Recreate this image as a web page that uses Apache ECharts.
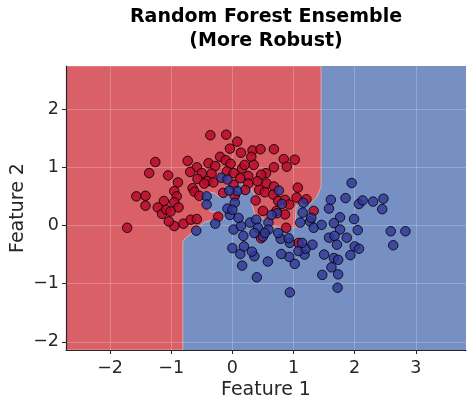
<!DOCTYPE html>
<html>
<head>
<meta charset="utf-8">
<script src="https://cdn.jsdelivr.net/npm/echarts@6/dist/echarts.min.js"></script>
<style>
  html, body { margin: 0; padding: 0; background: #fff; }
  #chart { width: 474px; height: 407px; }
</style>
</head>
<body>
<div id="chart"></div>
<script>
// axis extents and tick labels
var xRange = [-2.72, 3.82];
var yRange = [-2.14, 2.74];
var xTicks = [-2, -1, 0, 1, 2, 3];
var yTicks = [-2, -1, 0, 1, 2];

// decision region of class 0 (red), the rest of the plane is class 1 (blue)
var redRegion = [
  [-2.72, 2.74], [1.45, 2.74], [1.45, 0.66], [1.38, 0.49], [1.29, 0.39],
  [1.04, 0.34], [1.03, 0.06], [1.11, -0.01], [0.89, -0.06], [0.65, -0.01],
  [0.50, 0.13], [0.37, 0.18], [0.32, 0.36], [0.37, 0.51], [0.29, 0.67],
  [0.13, 0.72], [-0.07, 0.70], [-0.17, 0.61], [-0.20, 0.48], [-0.30, 0.56],
  [-0.41, 0.58], [-0.51, 0.55], [-0.51, 0.44], [-0.36, 0.24], [-0.17, 0.22],
  [-0.13, 0.11], [-0.33, 0.09], [-0.45, 0.06], [-0.56, -0.04], [-0.66, -0.13],
  [-0.76, -0.21], [-0.81, -0.28], [-0.81, -2.14], [-2.72, -2.14]
];

// class 0 samples (red)
var class0 = [
  [-0.36, 1.55], [-0.10, 1.56], [0.08, 1.44], [-0.04, 1.32], [0.14, 1.25],
  [0.33, 1.29], [0.46, 1.31], [0.68, 1.31], [0.31, 1.18], [-1.26, 1.09],
  [-1.36, 0.90], [-1.05, 0.86], [-0.73, 1.11], [-0.39, 1.07], [-0.20, 1.18],
  [-0.11, 1.12], [-0.03, 1.06], [-0.28, 1.02], [-0.58, 1.00], [-0.69, 0.92],
  [-0.50, 0.90], [-0.34, 0.89], [-0.09, 0.93], [0.02, 0.90], [0.16, 0.98],
  [0.35, 1.04], [0.20, 1.04], [0.68, 1.00], [0.84, 1.14], [1.02, 1.13],
  [0.89, 1.01], [0.55, 0.90], [0.47, 0.87], [0.26, 0.85], [0.13, 0.81],
  [-0.57, 0.80], [-0.89, 0.74], [-0.41, 0.76], [-0.31, 0.74], [0.02, 0.70],
  [0.26, 0.72], [0.41, 0.76], [0.56, 0.72], [0.68, 0.67], [1.07, 0.65],
  [-0.65, 0.64], [-0.62, 0.58], [-0.95, 0.59], [-0.91, 0.50], [-0.95, 0.40],
  [-1.57, 0.50], [-1.42, 0.51], [-1.42, 0.34], [-1.12, 0.42], [-1.22, 0.31],
  [-0.88, 0.31], [-0.54, 0.51], [-0.15, 0.56], [0.04, 0.51], [0.21, 0.61],
  [0.38, 0.43], [0.44, 0.61], [0.53, 0.57], [0.67, 0.53], [0.75, 0.42],
  [0.86, 0.44], [0.93, 0.36], [1.05, 0.48], [1.21, 0.45], [0.50, 0.25],
  [0.72, 0.25], [0.86, 0.19], [0.88, -0.04], [1.33, 0.25], [-0.23, 0.15],
  [-0.80, 0.03], [-0.68, 0.10], [-0.58, 0.11], [-0.95, -0.01], [-1.04, 0.07],
  [-1.15, 0.20], [-1.08, 0.27], [-1.01, 0.24], [-1.72, -0.04], [1.08, -0.30],
  [0.47, -0.22], [-0.46, 0.72]
];

// class 1 samples (blue)
var class1 = [
  [1.95, 0.73], [1.61, 0.44], [1.85, 0.47], [2.07, 0.37], [2.13, 0.43],
  [2.30, 0.41], [2.47, 0.46], [2.45, 0.28], [1.58, 0.29], [1.76, 0.14],
  [1.99, 0.11], [2.05, -0.08], [1.66, 0.04], [1.76, -0.07], [1.58, -0.21],
  [1.67, -0.18], [1.87, -0.21], [1.71, -0.33], [2.00, -0.36], [2.07, -0.40],
  [1.93, -0.51], [2.59, -0.10], [2.83, -0.10], [2.63, -0.34], [1.50, -0.50],
  [1.66, -0.56], [1.73, -0.59], [1.62, -0.72], [1.47, -0.85], [1.73, -0.84],
  [1.72, -1.07], [0.94, -1.15], [0.40, -0.89], [0.16, -0.69], [0.58, -0.62],
  [1.02, -0.66], [0.93, -0.54], [0.80, -0.49], [1.18, -0.50], [1.08, -0.44],
  [1.20, -0.40], [1.31, -0.33], [1.14, -0.30], [0.94, -0.30], [0.79, -0.23],
  [0.92, -0.22], [0.50, -0.19], [0.36, -0.53], [0.32, -0.45], [0.13, -0.49],
  [0.00, -0.39], [0.19, -0.36], [0.18, -0.18], [0.02, -0.07], [0.14, -0.01],
  [0.29, 0.05], [0.39, 0.10], [0.59, 0.05], [0.59, -0.07], [0.42, -0.04],
  [0.53, -0.13], [0.36, -0.13], [0.73, 0.21], [0.10, 0.13], [-0.04, 0.18],
  [-0.08, 0.29], [0.04, 0.39], [0.00, 0.27], [-0.28, 0.03], [-0.59, -0.09],
  [-0.42, 0.50], [-0.42, 0.36], [0.08, 0.59], [-0.05, 0.60], [-0.18, 0.82],
  [-0.08, 0.79], [0.64, 0.18], [1.15, 0.22], [1.11, 0.05], [1.27, 0.07],
  [1.29, 0.13], [1.33, -0.04], [1.46, 0.01], [1.16, 0.39], [0.81, 0.37],
  [0.76, 0.60], [0.75, -0.13]
];

var chart = echarts.init(document.getElementById('chart'));
var font = 'DejaVu Sans';
var ink = '#262626';
var minus = function (v) { return String(v).replace('-', '\u2212'); };

function regionItem(points, fill, stroke) {
  return function (params, api) {
    return {
      type: 'polygon',
      shape: { points: points.map(function (p) { return api.coord(p); }) },
      style: { fill: fill, stroke: stroke, lineWidth: 1 }
    };
  };
}

var blueRegion = [
  [xRange[0], yRange[0]], [xRange[1], yRange[0]],
  [xRange[1], yRange[1]], [xRange[0], yRange[1]]
];

var option = {
  animation: false,
  textStyle: { fontFamily: font },
  graphic: [
    { type: 'text', x: 266, y: 17, style: { text: 'Random Forest Ensemble', textAlign: 'center', textVerticalAlign: 'middle', font: 'bold 19px "DejaVu Sans"', fill: '#000' } },
    { type: 'text', x: 266, y: 41, style: { text: '(More Robust)', textAlign: 'center', textVerticalAlign: 'middle', font: 'bold 19px "DejaVu Sans"', fill: '#000' } }
  ],
  grid: { left: 66, right: 8, top: 66, bottom: 57, outerBoundsMode: 'none' },
  xAxis: {
    type: 'value',
    min: xRange[0],
    max: xRange[1],
    interval: 1,
    name: 'Feature 1',
    nameLocation: 'middle',
    nameGap: 31,
    nameMoveOverlap: false,
    nameTextStyle: { fontSize: 19, color: ink, fontFamily: font },
    axisLine: { show: true, onZero: false, lineStyle: { color: ink, width: 1.2 } },
    axisTick: { show: true, customValues: xTicks, length: 4, lineStyle: { color: ink } },
    axisLabel: { customValues: xTicks, formatter: minus, fontSize: 17.5, color: ink, margin: 9, fontFamily: font },
    splitLine: { show: true, lineStyle: { color: 'rgba(255,255,255,0.22)', width: 1 } }
  },
  yAxis: {
    type: 'value',
    min: yRange[0],
    max: yRange[1],
    interval: 1,
    name: 'Feature 2',
    nameLocation: 'middle',
    nameGap: 38,
    nameRotate: 90,
    nameMoveOverlap: false,
    nameTextStyle: { fontSize: 19, color: ink, fontFamily: font },
    axisLine: { show: true, onZero: false, lineStyle: { color: ink, width: 1.2 } },
    axisTick: { show: true, customValues: yTicks, length: 4, lineStyle: { color: ink } },
    axisLabel: { customValues: yTicks, formatter: minus, fontSize: 17.5, color: ink, margin: 7, fontFamily: font },
    splitLine: { show: true, lineStyle: { color: 'rgba(255,255,255,0.22)', width: 1 } }
  },
  series: [
    {
      type: 'custom',
      z: -3,
      clip: true,
      silent: true,
      renderItem: regionItem(blueRegion, '#7690c4', 'none'),
      data: [blueRegion[0]]
    },
    {
      type: 'custom',
      z: -2,
      clip: true,
      silent: true,
      renderItem: regionItem(redRegion, '#d96067', 'rgba(245,190,180,0.7)'),
      data: [redRegion[0]]
    },
    {
      type: 'scatter',
      data: class0,
      symbolSize: 9.5,
      itemStyle: { color: '#b80a2c', opacity: 0.85, borderColor: '#000', borderWidth: 1 }
    },
    {
      type: 'scatter',
      data: class1,
      symbolSize: 9.5,
      itemStyle: { color: '#313695', opacity: 0.8, borderColor: '#000', borderWidth: 1 }
    }
  ]
};

chart.setOption(option);
</script>
</body>
</html>
